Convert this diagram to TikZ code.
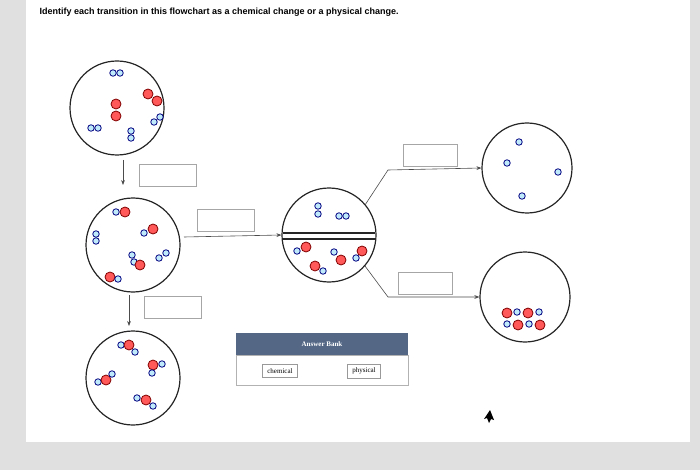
\documentclass[tikz,border=0pt]{standalone}
\usepackage{fontspec}
\setmainfont{Liberation Serif}
\newfontfamily\titlefont{Liberation Sans}
\usetikzlibrary{arrows.meta}
\definecolor{hdr}{RGB}{84,104,134}
\begin{document}
\begin{tikzpicture}[x=1pt,y=-1pt,
  circ/.style={draw=black!85,line width=1.2pt,fill=white},
  ansbox/.style={draw=black!35,line width=0.6pt,fill=white,minimum width=57pt,minimum height=22pt},
  flow/.style={draw=black!70,line width=0.6pt,-{Stealth[length=5pt]}},
  ra/.style={circle,draw=red!50!black,fill=red!65,line width=0.8pt,inner sep=0pt,minimum size=10pt},
  ba/.style={circle,draw=blue!50!black,fill=cyan!25,line width=0.8pt,inner sep=0pt,minimum size=6.5pt},
  btn/.style={draw=black!40,fill=white,font=\scriptsize,inner xsep=5pt,inner ysep=4pt}]
\useasboundingbox (0,0) rectangle (700,470);
\fill[black!12] (0,0) rectangle (700,470);
\fill[white] (26,0) rectangle (690,442);
\node[anchor=west,font=\titlefont\bfseries\fontsize{9}{11}\selectfont] (title) at (36,12) {Identify each transition in this flowchart as a chemical change or a physical change.};
% circles
\node[circ,circle,minimum size=94pt] (c1) at (117,108) {};
\node[circ,circle,minimum size=94pt] (c2) at (133,245) {};
\node[circ,circle,minimum size=94pt] (c3) at (133,378) {};
\node[circ,circle,minimum size=94pt] (c4) at (329,235) {};
\draw[black!85,line width=1.2pt] (283,233) -- (375,233) (283,239) -- (375,239);
\node[circ,circle,minimum size=90pt] (c5) at (527,168) {};
\node[circ,circle,minimum size=90pt] (c6) at (525,297) {};
% boxes
\node[ansbox] (b1) at (168,175) {};
\node[ansbox] (b2) at (173,307) {};
\node[ansbox] (b3) at (226,220) {};
\node[ansbox,minimum width=54pt] (b4) at (430,155) {};
\node[ansbox,minimum width=54pt] (b5) at (425,283) {};
% connectors
\coordinate (k1) at (388,170); \coordinate (k2) at (388,297);
\draw[flow] (123,160) -- (123,185);
\draw[flow] (129,295) -- (129,326);
\draw[flow] (184,237) -- (c4.west);
\draw[flow] (365,205) -- (k1) -- (c5.west);
\draw[flow] (365,266) -- (k2) -- (c6.west);
% molecules c1
\node[ba] at (113,73){};\node[ba] at (120,73){};
\node[ra] at (116,104){};\node[ra] at (116,116){};
\node[ra] at (148,94){};\node[ra] at (157,101){};
\node[ba] at (154,122){};\node[ba] at (160,117){};
\node[ba] at (91,128){};\node[ba] at (98,128){};
\node[ba] at (131,131){};\node[ba] at (131,138){};
% c2
\node[ba] at (116,212){};\node[ra] at (125,212){};
\node[ba] at (96,234){};\node[ba] at (96,241){};
\node[ba] at (144,233){};\node[ra] at (153,229){};
\node[ba] at (132,255){};\node[ba] at (134,262){};\node[ra] at (140,265){};
\node[ba] at (159,258){};\node[ba] at (166,253){};
\node[ra] at (110,277){};\node[ba] at (118,279){};
% c3
\node[ba] at (121,345){};\node[ra] at (129,345){};\node[ba] at (135,352){};
\node[ba] at (98,382){};\node[ra] at (106,380){};\node[ba] at (112,374){};
\node[ra] at (153,365){};\node[ba] at (162,364){};\node[ba] at (152,373){};
\node[ba] at (137,398){};\node[ra] at (146,400){};\node[ba] at (153,406){};
% c4
\node[ba] at (318,206){};\node[ba] at (318,214){};
\node[ba] at (339,216){};\node[ba] at (346,216){};
\node[ba] at (297,251){};\node[ra] at (306,247){};
\node[ra] at (315,266){};\node[ba] at (323,271){};
\node[ba] at (334,252){};\node[ra] at (341,260){};
\node[ba] at (356,258){};\node[ra] at (362,251){};
% c5
\node[ba] at (519,142){};\node[ba] at (507,163){};\node[ba] at (558,172){};\node[ba] at (522,196){};
% c6
\node[ra] at (507,313){};\node[ba] at (517,312){};\node[ra] at (528,313){};\node[ba] at (539,312){};
\node[ba] at (507,324){};\node[ra] at (518,325){};\node[ba] at (529,324){};\node[ra] at (540,325){};
% answer bank
\node[fill=hdr,minimum width=172pt,minimum height=22pt,text=white,font=\scriptsize\bfseries] (ab) at (322,344) {Answer Bank};
\node[draw=black!30,fill=white,minimum width=172pt,minimum height=30pt,anchor=north] (abb) at (ab.south) {};
\node[btn] (ch) at (280,371) {chemical};
\node[btn] (ph) at (364,371) {physical};
% cursor
\fill[black] (490,410) -- (494,420) -- (491,419) -- (489,423) -- (487,418) -- (484,419) -- cycle;
\end{tikzpicture}
\end{document}
